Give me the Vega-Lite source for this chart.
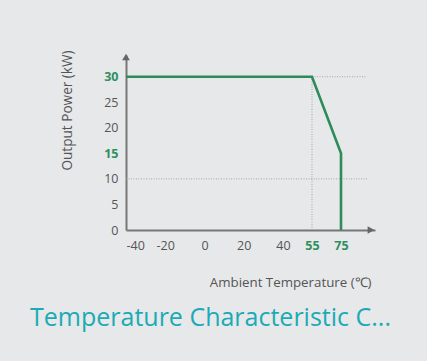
{
  "$schema": "https://vega.github.io/schema/vega-lite/v6.json",
  "width": 249,
  "height": 175,
  "autosize": "none",
  "padding": {"left": 126, "top": 55, "right": 52, "bottom": 131},
  "background": "#e7e8ea",
  "config": {"view": {"stroke": null}, "font": "Open Sans"},
  "title": {
    "text": "Temperature Characteristic C...",
    "orient": "bottom",
    "anchor": "start",
    "frame": "group",
    "fontSize": 25,
    "fontWeight": "normal",
    "color": "#1aabb5",
    "dx": -96,
    "offset": 18
  },
  "encoding": {
    "x": {
      "field": "t",
      "type": "quantitative",
      "scale": {"domain": [-40, 40, 55, 75, 98], "range": [0, 157, 186, 215, 249], "nice": false, "zero": false},
      "axis": {
        "values": [-40, -20, 0, 20, 40, 55, 75],
        "labelExpr": "'' + datum.value",
        "domainColor": "#777777",
        "domainWidth": 2,
        "ticks": false,
        "grid": false,
        "labelPadding": 9,
        "labelFontSize": 12.5,
        "labelColor": {"condition": {"test": "datum.value == 55 || datum.value == 75", "value": "#2f8f5f"}, "value": "#555555"},
        "labelFontWeight": {"condition": {"test": "datum.value == 55 || datum.value == 75", "value": "bold"}, "value": "normal"},
        "title": "Ambient Temperature (℃)",
        "titleFontSize": 13.3,
        "titleFontWeight": "normal",
        "titleColor": "#555555",
        "titleX": 245,
        "titleY": 52,
        "titleAlign": "right",
        "titleBaseline": "middle"
      }
    },
    "y": {
      "field": "p",
      "type": "quantitative",
      "scale": {"domain": [0, 34.25], "nice": false, "zero": true},
      "axis": {
        "values": [0, 5, 10, 15, 20, 25, 30],
        "domainColor": "#777777",
        "domainWidth": 2,
        "ticks": false,
        "grid": false,
        "labelPadding": 8,
        "labelFontSize": 12.5,
        "labelColor": {"condition": {"test": "datum.value == 30 || datum.value == 15", "value": "#2f8f5f"}, "value": "#555555"},
        "labelFontWeight": {"condition": {"test": "datum.value == 30 || datum.value == 15", "value": "bold"}, "value": "normal"},
        "title": "Output Power (kW)",
        "titleFontSize": 13.6,
        "titleFontWeight": "normal",
        "titleColor": "#555555",
        "titleX": -59,
        "titleY": 55,
        "titleAngle": -90,
        "titleAlign": "center",
        "titleBaseline": "middle"
      }
    }
  },
  "layer": [
    {
      "data": {"values": [
        {"t": -40, "t2": 92.6, "p": 10, "p2": 10},
        {"t": 55, "t2": 92.6, "p": 30, "p2": 30},
        {"t": 55, "t2": 55, "p": 0, "p2": 30}
      ]},
      "mark": {"type": "rule", "color": "#a5a5a5", "strokeWidth": 1, "strokeDash": [1, 1.5]},
      "encoding": {"x2": {"field": "t2"}, "y2": {"field": "p2"}}
    },
    {
      "data": {"values": [
        {"o": 1, "t": -40, "p": 30},
        {"o": 2, "t": 55, "p": 30},
        {"o": 3, "t": 75, "p": 15},
        {"o": 4, "t": 75, "p": 0}
      ]},
      "mark": {"type": "line", "color": "#2e8b5a", "strokeWidth": 2.6},
      "encoding": {"order": {"field": "o", "type": "quantitative"}}
    },
    {
      "data": {"values": [
        {"t": -40, "p": 33.86, "s": "triangle-up"},
        {"t": 95.3, "p": 0, "s": "triangle-right"}
      ]},
      "mark": {"type": "point", "filled": true, "color": "#666666", "opacity": 1, "size": 60},
      "encoding": {"shape": {"field": "s", "type": "nominal", "scale": null, "legend": null}}
    }
  ]
}
